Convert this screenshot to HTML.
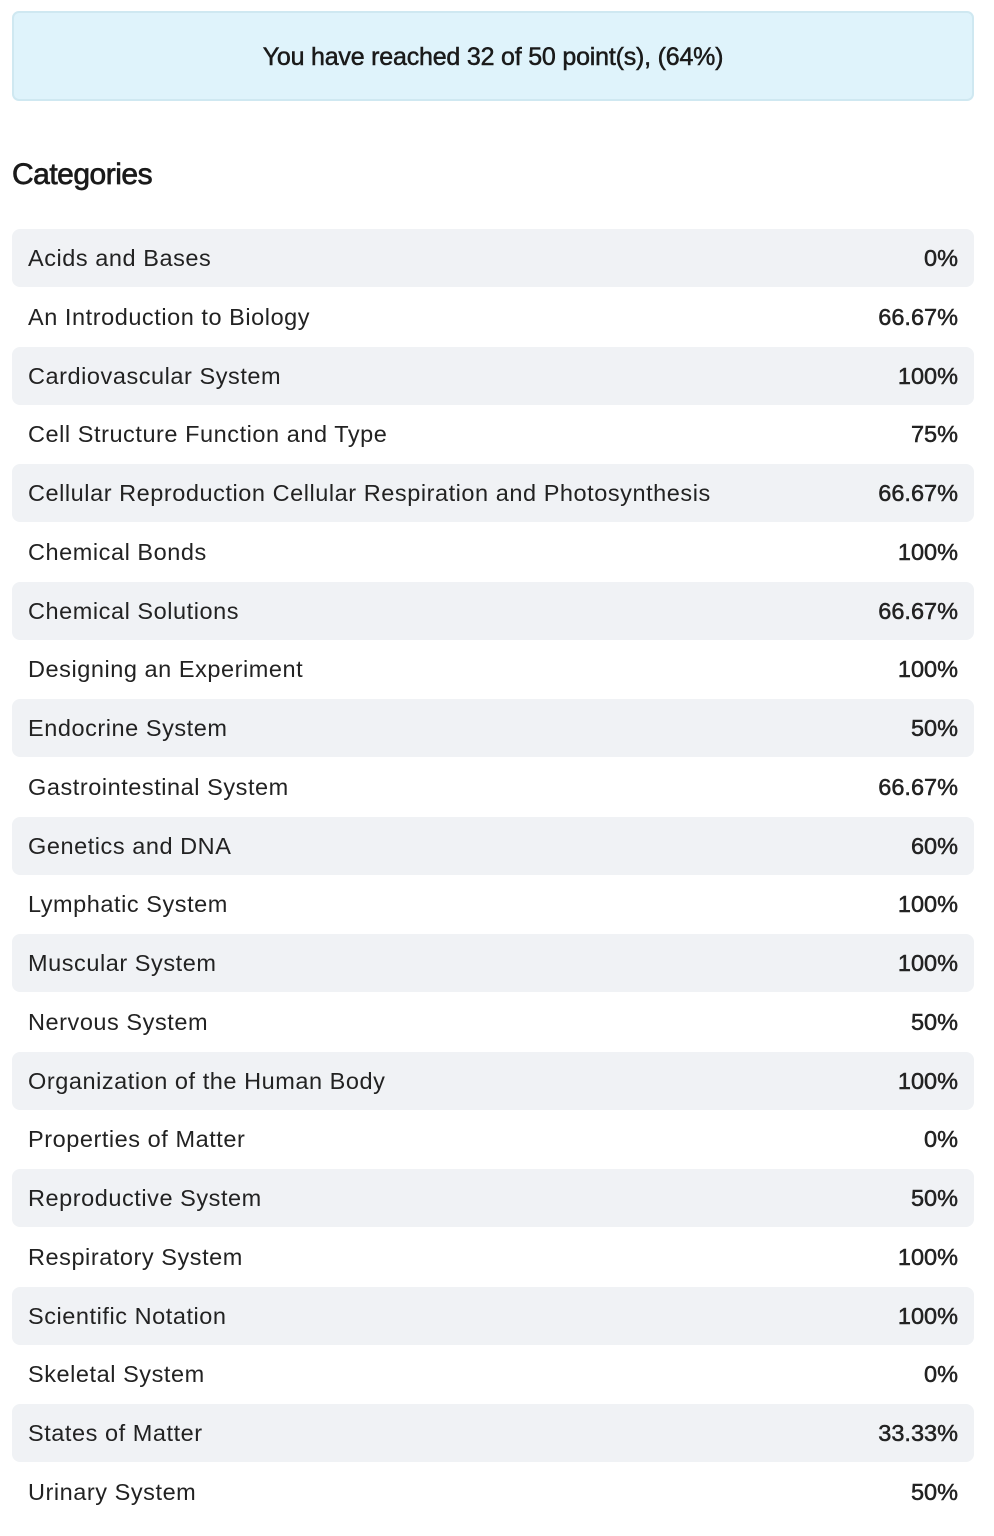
<!DOCTYPE html>
<html><head><meta charset="utf-8"><style>
body{margin:0;background:#fff;width:994px;height:1536px;overflow:hidden;font-family:"Liberation Sans",sans-serif;color:#222;}
.banner{position:absolute;left:12px;top:11px;width:958px;height:86px;background:#dff3fb;border:2px solid #cfe8f1;border-radius:7px;text-align:center;line-height:88px;font-size:25px;color:#1a1a1a;letter-spacing:-0.2px;-webkit-text-stroke:0.5px #1a1a1a}
h2{position:absolute;left:12px;top:158px;margin:0;font-size:30px;font-weight:normal;color:#1a1a1a;letter-spacing:-0.5px;-webkit-text-stroke:0.7px #1a1a1a}
.row{position:absolute;left:12px;width:962px;height:58px;border-radius:8px;font-size:23.5px;line-height:58px;letter-spacing:0.55px}
.row.g{background:#f0f2f5}
.row span{position:absolute;left:16px}
.row b{position:absolute;right:16px;font-weight:normal;-webkit-text-stroke:0.5px #222;letter-spacing:0}
</style></head><body>
<div class="banner">You have reached 32 of 50 point(s), (64%)</div>
<h2>Categories</h2>
<div class="row g" style="top:229px"><span>Acids and Bases</span><b>0%</b></div>
<div class="row" style="top:287.75px"><span>An Introduction to Biology</span><b>66.67%</b></div>
<div class="row g" style="top:346.5px"><span>Cardiovascular System</span><b>100%</b></div>
<div class="row" style="top:405.25px"><span>Cell Structure Function and Type</span><b>75%</b></div>
<div class="row g" style="top:464px"><span>Cellular Reproduction Cellular Respiration and Photosynthesis</span><b>66.67%</b></div>
<div class="row" style="top:522.75px"><span>Chemical Bonds</span><b>100%</b></div>
<div class="row g" style="top:581.5px"><span>Chemical Solutions</span><b>66.67%</b></div>
<div class="row" style="top:640.25px"><span>Designing an Experiment</span><b>100%</b></div>
<div class="row g" style="top:699px"><span>Endocrine System</span><b>50%</b></div>
<div class="row" style="top:757.75px"><span>Gastrointestinal System</span><b>66.67%</b></div>
<div class="row g" style="top:816.5px"><span>Genetics and DNA</span><b>60%</b></div>
<div class="row" style="top:875.25px"><span>Lymphatic System</span><b>100%</b></div>
<div class="row g" style="top:934px"><span>Muscular System</span><b>100%</b></div>
<div class="row" style="top:992.75px"><span>Nervous System</span><b>50%</b></div>
<div class="row g" style="top:1051.5px"><span>Organization of the Human Body</span><b>100%</b></div>
<div class="row" style="top:1110.25px"><span>Properties of Matter</span><b>0%</b></div>
<div class="row g" style="top:1169px"><span>Reproductive System</span><b>50%</b></div>
<div class="row" style="top:1227.75px"><span>Respiratory System</span><b>100%</b></div>
<div class="row g" style="top:1286.5px"><span>Scientific Notation</span><b>100%</b></div>
<div class="row" style="top:1345.25px"><span>Skeletal System</span><b>0%</b></div>
<div class="row g" style="top:1404px"><span>States of Matter</span><b>33.33%</b></div>
<div class="row" style="top:1462.75px"><span>Urinary System</span><b>50%</b></div>
</body></html>
